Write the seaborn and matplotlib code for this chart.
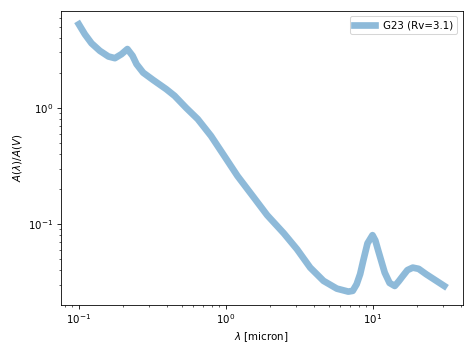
import matplotlib
import matplotlib.pyplot as plt
import pandas as pd
import seaborn as sns

matplotlib.use("agg")

# G23 extinction curve
wavelength = [0.100, 0.110, 0.122, 0.139, 0.159, 0.176, 0.195, 0.214, 0.232,
              0.247, 0.274, 0.320, 0.393, 0.448, 0.537, 0.644, 0.792, 0.975,
              1.20, 1.55, 1.91, 2.48, 3.05, 3.75, 4.62, 5.69, 6.81, 7.30,
              7.76, 8.20, 8.60, 9.20, 9.95, 10.4, 10.9, 12.05, 13.0, 14.1,
              15.0, 16.0, 17.2, 18.7, 20.5, 23.1, 30.6]
a_over_av = [5.25, 4.30, 3.60, 3.10, 2.77, 2.68, 2.90, 3.21, 2.81,
             2.38, 2.01, 1.74, 1.45, 1.27, 1.00, 0.80, 0.574, 0.386,
             0.259, 0.169, 0.119, 0.083, 0.0605, 0.042, 0.0323, 0.0277, 0.0261, 0.0265,
             0.0302, 0.037, 0.048, 0.068, 0.080, 0.072, 0.0585, 0.038, 0.031, 0.0292,
             0.032, 0.0356, 0.040, 0.042, 0.041, 0.0368, 0.0292]
label = "G23 (Rv=3.1)"

df = pd.DataFrame({"wave": wavelength, "ext": a_over_av, "model": label})

fig, ax = plt.subplots(figsize = (6.4, 4.8), dpi = 74)
ax.set_xscale("log")
ax.set_yscale("log")
sns.lineplot(data = df, x = "wave", y = "ext", hue = "model", palette = ["#1f77b4"],
             linewidth = 6.5, alpha = 0.5, solid_joinstyle = "round", ax = ax)
ax.set_xlabel(r"$\lambda$ [micron]")
ax.set_ylabel(r"$A(\lambda)/A(V)$")
ax.legend(loc = "best")
plt.tight_layout()
plt.savefig("out.png", dpi = 74)
